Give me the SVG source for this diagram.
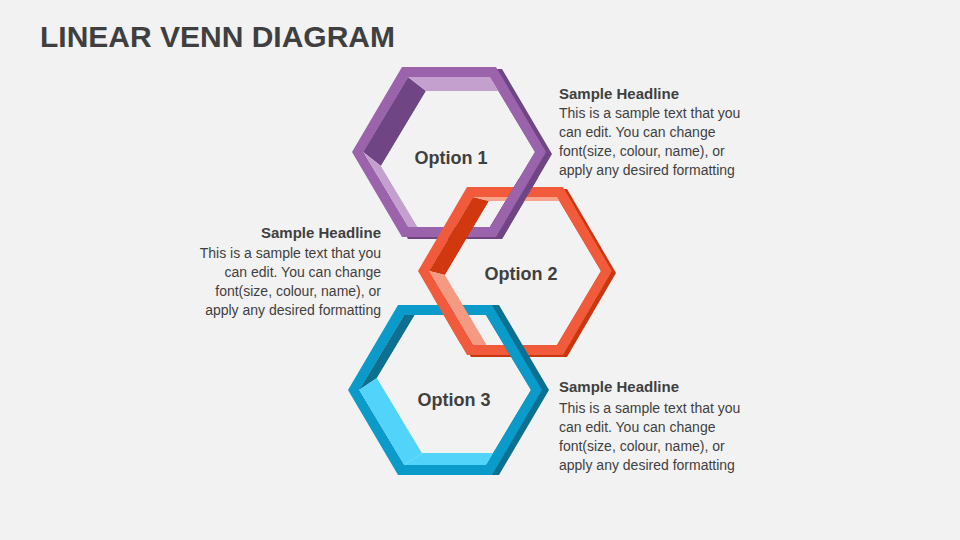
<svg xmlns="http://www.w3.org/2000/svg" xmlns:xlink="http://www.w3.org/1999/xlink" width="960" height="540" viewBox="0 0 960 540">
<style>
.t{font-family:"Liberation Sans",Arial,sans-serif;fill:#3F3F3F}
.ttl{font-size:30px;font-weight:bold}
.hd{font-size:15px;font-weight:bold}
.bd{font-size:14px}
.op{font-size:18px;font-weight:bold;text-anchor:middle}
</style>
<defs>
<mask id="mP" maskUnits="userSpaceOnUse" x="0" y="0" width="960" height="540"><polygon points="363,152 408,77 490,77 535,152 490,227 408,227" fill="#fff"/><polygon points="381,166 426,91 508,91 553,166 508,241 426,241" fill="#000"/></mask>
<mask id="mR" maskUnits="userSpaceOnUse" x="0" y="0" width="960" height="540"><polygon points="429,271 473,197 557,197 601,271 557,345 473,345" fill="#fff"/><polygon points="445,275 489,201 573,201 617,275 573,349 489,349" fill="#000"/></mask>
<mask id="mB" maskUnits="userSpaceOnUse" x="0" y="0" width="960" height="540"><polygon points="359,390 404,315 486,315 531,390 486,465 404,465" fill="#fff"/><polygon points="377,378 422,303 504,303 549,378 504,453 422,453" fill="#000"/></mask>
<clipPath id="cPR"><rect x="486" y="178" width="70" height="64"/></clipPath>
<clipPath id="cRB"><rect x="420" y="296" width="68" height="48"/></clipPath>
</defs>
<rect width="960" height="540" fill="#F2F2F2"/>
<text class="t ttl" x="40" y="47">LINEAR VENN DIAGRAM</text>

<g id="option1">
<path fill="#6F4683" fill-rule="evenodd" d="M358,154 L408,69 L502,69 L552,154 L502,239 L408,239 Z M363,152 L408,77 L490,77 L535,152 L490,227 L408,227 Z"/>
<path fill="#9B63AB" fill-rule="evenodd" d="M352,152 L402,67 L496,67 L546,152 L496,237 L402,237 Z M363,152 L408,77 L490,77 L535,152 L490,227 L408,227 Z"/>
<g mask="url(#mP)">
<polygon points="363,152 408,77 426,91 381,166" fill="#6F4683"/>
<polygon points="408,77 490,77 508,91 426,91" fill="#C3A0CE"/>
<polygon points="408,227 363,152 381,166 426,241" fill="#C3A0CE"/>
</g>
</g>

<g id="option2">
<path fill="#C9370F" fill-rule="evenodd" d="M422,273 L471,189 L567,189 L616,273 L567,357 L471,357 Z M429,271 L473,197 L557,197 L601,271 L557,345 L473,345 Z"/>
<path fill="#F15A3A" fill-rule="evenodd" d="M418,271 L467,187 L563,187 L612,271 L563,355 L467,355 Z M429,271 L473,197 L557,197 L601,271 L557,345 L473,345 Z"/>
<g mask="url(#mR)">
<polygon points="429,271 473,197 489,201 445,275" fill="#D2380F"/>
<polygon points="473,197 557,197 573,201 489,201" fill="#F8A48C"/>
<polygon points="473,345 429,271 445,275 489,349" fill="#F59A82"/>
</g>
</g>

<g id="option3">
<path fill="#0D7090" fill-rule="evenodd" d="M355,390 L405,305 L499,305 L549,390 L499,475 L405,475 Z M359,390 L404,315 L486,315 L531,390 L486,465 L404,465 Z"/>
<path fill="#0A9BCB" fill-rule="evenodd" d="M348,390 L398,305 L492,305 L542,390 L492,475 L398,475 Z M359,390 L404,315 L486,315 L531,390 L486,465 L404,465 Z"/>
<g mask="url(#mB)">
<polygon points="359,390 404,315 422,303 377,378" fill="#0D7090"/>
<polygon points="404,465 359,390 377,378 422,453" fill="#52D3F9"/>
<polygon points="486,465 404,465 422,453 504,453" fill="#52D3F9"/>
</g>
</g>

<g id="links">
<use xlink:href="#option1" href="#option1" clip-path="url(#cPR)"/>
<use xlink:href="#option2" href="#option2" clip-path="url(#cRB)"/>
</g>
<g id="connectors"/>

<text class="t op" x="451" y="164">Option 1</text>
<text class="t op" x="521" y="280">Option 2</text>
<text class="t op" x="454" y="406">Option 3</text>

<g id="text1">
<text class="t hd" x="559" y="99">Sample Headline</text>
<text class="t bd" x="559" y="118">This is a sample text that you</text>
<text class="t bd" x="559" y="137">can edit. You can change</text>
<text class="t bd" x="559" y="156">font(size, colour, name), or</text>
<text class="t bd" x="559" y="175">apply any desired formatting</text>
</g>
<g id="text2" text-anchor="end">
<text class="t hd" x="381" y="238">Sample Headline</text>
<text class="t bd" x="381" y="258">This is a sample text that you</text>
<text class="t bd" x="381" y="277">can edit. You can change</text>
<text class="t bd" x="381" y="296">font(size, colour, name), or</text>
<text class="t bd" x="381" y="315">apply any desired formatting</text>
</g>
<g id="text3">
<text class="t hd" x="559" y="392">Sample Headline</text>
<text class="t bd" x="559" y="413">This is a sample text that you</text>
<text class="t bd" x="559" y="432">can edit. You can change</text>
<text class="t bd" x="559" y="451">font(size, colour, name), or</text>
<text class="t bd" x="559" y="470">apply any desired formatting</text>
</g>
</svg>
